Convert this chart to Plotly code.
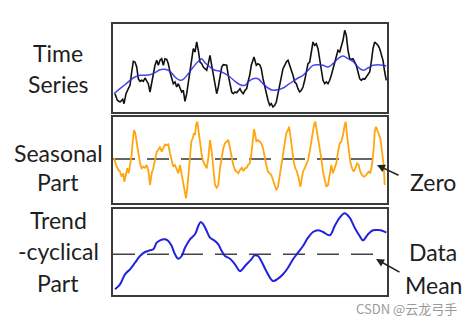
import plotly.graph_objects as go
from plotly.subplots import make_subplots

# ---- Panel 1: observed time series (black) and its smooth trend (blue) ----
series_t = [2, 4.3, 7, 9.7, 11, 13, 15.3, 17, 18.7, 20.3, 22, 23.7, 25.3, 27, 28.7, 30.3, 32, 33.7, 35.3, 37,
            38.7, 40.3, 42, 43.7, 45.3, 47, 48.7, 50.3, 52, 53.7, 55.3, 57, 58.7, 60.3, 62, 63.7, 65.3, 67, 68.7,
            70.3, 72, 73.7, 75.3, 77, 78.7, 80.3, 82, 83.7, 85.3, 87, 88.7, 90.3, 92, 93.7, 95.3, 97, 98.7, 100.3,
            102, 103.7, 105.3, 107, 108.7, 110.3, 112, 113.7, 115.3, 117, 118.7, 120.3, 122, 123.7, 125.3, 127,
            128.7, 130.3, 132, 133.7, 135,
            136.7, 138.3, 141, 143.3, 145, 146.7, 148.3, 150, 151.7, 153.3, 155, 156.7, 158.3, 160, 161.7, 163.3,
            165, 166.7, 168.3, 170, 171.7, 173.3, 175, 176.7, 178.3, 180, 181.7, 183.3, 185, 186.7, 188.3, 190,
            191.7, 193.3, 195, 196.7, 198.3, 200, 201.7, 203.3, 205, 206.7, 208.3, 210, 211.7, 213.3, 215, 216.7,
            218.3, 220, 221.7, 223.3, 225, 226.7, 228.3, 230, 231.7, 233.3, 235, 236.7, 238.3, 240, 241.7, 243.3,
            245, 246.7, 248.3, 250, 251.7, 253.3, 255, 256.7, 258.3, 260, 261.7, 263.3, 265, 266.7, 268.3, 270,
            271.7, 273.3]
series_v = [18.3, 11.7, 10, 12.7, 8.3, 18.3, 23.3, 26.7, 40, 50.7, 50, 45, 33.3, 30.7, 31.7, 30.7, 34, 31.7, 28.3,
            20, 30, 40, 46.7, 51.7, 46.7, 51.7, 53.3, 46.7, 53.3, 52.7, 48.3, 40, 35, 28.3, 30, 25, 28.3, 23.3, 20,
            21.7, 10.7, 18.3, 30, 43.3, 53.3, 63.3, 60, 70, 61.7, 50, 48.3, 45, 43.3, 41.7, 48.3, 56.7, 46.7, 36.7,
            25, 18.3, 25, 36.7, 45, 47.3, 46.7, 46.7, 36.7, 26.7, 20, 18.3, 20, 19.3, 21.7, 23.3, 20, 18.3, 21.7,
            23.3, 30,
            36.7, 46.7, 55, 46.7, 48.3, 47.3, 43.3, 33.3, 25, 16.7, 11.7, 6.7, 8.3, 5, 6.7, 10, 18.3, 26.7, 36.7,
            43.3, 46.7, 50, 51.7, 46.7, 43.3, 36.7, 30, 28.3, 23.3, 20, 21.7, 25, 31.7, 38.3, 48.3, 50, 60, 70,
            66.7, 68.3, 63.3, 53.3, 40, 31.7, 28.3, 30, 28.3, 31.7, 36.7, 43.3, 51.7, 56.7, 61.7, 60, 65, 71.7,
            81.7, 76.7, 61.7, 53.3, 52.7, 53.3, 50, 46.7, 40, 33.3, 31.7, 33.3, 32.7, 35, 36.7, 40, 50, 63.3, 70,
            68.3, 66.7, 63.3, 56.7, 51.7, 40, 31.7]

smooth_t = [1, 7, 12, 17, 22, 27, 32, 37, 42, 47, 52, 57, 62, 67, 70.3, 75.3, 80.3, 85.3, 88.7, 92, 97, 102,
            107, 112, 117, 122, 127, 132, 135, 140, 145, 150, 155, 160, 165, 170, 175, 180, 185, 190, 195, 200,
            205, 210, 215, 220, 225, 230, 235, 240, 245, 250, 255, 260, 265, 270, 273.3]
smooth_v = [18.3, 23.3, 27.3, 31.7, 35, 36.7, 36.7, 37.3, 39.3, 42.3, 42.7, 40.7, 35, 31.7, 32.7, 38.3, 45,
            50.7, 53.3, 49.3, 45, 41.7, 40.7, 38.3, 35, 30.7, 27.3, 26.7, 30, 33.3, 33.3, 28.3, 24, 21.7, 22.3,
            24, 27.3, 30.7, 34, 36.7, 41.7, 46.7, 47.3, 46.7, 45, 48.3, 53.3, 56, 53.3, 50.7, 45, 41.7, 44, 46.7,
            47.3, 46.7, 46]

# ---- Panel 2: seasonal part ----
season_t = [1, 3, 5.3, 7, 8.7, 10.3, 11.3, 12.7, 14.3, 15.7, 17, 18.7, 19.7, 21, 22.3, 23.7, 25.3, 27, 28.7, 30.3,
            32, 33.7, 35.3, 37, 38.7, 40.3, 42, 43.7, 45.3, 47, 48.7, 50.3, 52, 53.7, 55.3, 57, 58.7, 60.3, 62,
            63.7, 65.3, 67, 68.7, 70.3, 72, 73, 74.3, 75.7, 77, 78.3, 79.7, 81, 82, 83, 84.3, 85.7, 87, 88.7, 90.3,
            92, 93.7, 95.3, 97, 98.7, 100.3, 102, 103.7, 105.3, 107, 108.7, 110.3, 112, 113.7, 115.3, 117, 118.7,
            120.3, 122, 123.7, 125.3, 127, 128.7, 130.3, 132, 133.7, 135,
            136.7, 138.3, 140, 141, 142.3, 143.3, 145, 146.7, 148.3, 150, 151.7, 153.3, 155, 156.7, 158.3, 160,
            161.7, 163.3, 165, 166.7, 168.3, 170, 171.7, 173.3, 175, 176, 177.3, 179, 180.7, 182.3, 184, 185.7,
            187.3, 188.3, 190, 191.7, 193.3, 195, 196.7, 198.3, 200, 201, 202.3, 203.7, 205, 206.7, 208.3, 210,
            211.7, 213.3, 215, 216.7, 218.3, 220, 221.7, 223.3, 225, 226.7, 228.3, 230, 231.7, 232.7, 234, 235.7,
            237.3, 239, 240.7, 242.3, 244, 245.7, 247.3, 249, 250.7, 252.3, 254, 255.7, 257.3, 259, 260.7, 261.7,
            263, 264.3, 265.7, 267.3, 269, 270.7, 271.7]
season_v = [0.7, -6, -11, -12.7, -17.7, -14.3, -22.7, -16, -9.3, -14.3, -6, 4, 17.3, 29, 25.7, 17.3, 7.3, -4.3,
            -9.3, -7.7, -8.7, -6, -11, -26, -14.3, -9.3, -1, 7.3, 9, 12.3, 7.3, 10.7, 14.7, 14, 14.7, 5.7, -2.7,
            -7.7, -6, -11, -14.3, -6, -16, -22.7, -34.3, -39.3, -29.3, -9.3, 7.3, 17.3, 20.7, 25.7, 24, 34, 37.3,
            29, 17.3, 4, -2.7, -6, -9.3, 0.7, 19, 7.3, -9.3, -26, -28.7, -26, -9.3, 4, 10.7, 15.7, 18, 19, 10.7,
            0.7, -6, -11, -13.3, -14.3, -11, -8.7, -12, -9.3, -8.7, -6,
            -4.3, 4, 20.7, 30, 24, 17.3, 19, 17.3, 15.7, 10.7, 0.7, -6, -12.7, -14.3, -16, -21, -27.7, -31, -27.7,
            -16, -4.3, 7.3, 19, 25.7, 29, 32.3, 24, 10.7, -2.7, -9.3, -12.7, -19.3, -27.7, -22.7, -12.7, -9.3, -6,
            -1, 7.3, 17.3, 24, 34, 37.3, 29, 24, 14, 0.7, -12.7, -22.7, -27.7, -26, -16, -6, -14.3, -7.7, -4.3,
            7.3, 15.7, 17.3, 24, 34, 37.3, 24, 7.3, -2.7, -9.3, -12.7, -9.3, -4.3, -6, -12.7, -16, -17.7, -17,
            -14.7, -12.7, -14.3, -6, 10.7, 27.3, 32.3, 29, 24, 20.7, 7.3, -6, -26]

# ---- Panel 3: trend-cyclical part (deviation from data mean) ----
trend_t = [2, 7, 12, 17, 22, 27, 32, 37, 40.3, 43.7, 47, 52, 55.3, 58.7, 62, 65.3, 68.7, 72, 77, 82, 85.3, 87.7,
           90.3, 93.7, 97, 102, 105.3, 108.7, 112, 117, 122, 127, 132, 135, 138.3, 141.7, 145, 148.3, 153.3, 160,
           165, 170, 175, 180, 185, 190, 195, 200, 205, 210, 216.7, 221.7, 226.7, 231.7, 236.7, 241.7, 246.7, 250,
           255, 260, 265, 270, 273.3]
trend_v = [-35, -30, -20, -15, -8.4, -1.7, 2.3, 4, 5, 11.6, 14, 15, 13.3, 8.3, 0, -4.4, -1.7, 6.6, 15, 20, 28.3,
           32.3, 30, 23.3, 16.6, 13.3, 10, 3.3, -1.7, -4.4, -10, -16.7, -11.7, -8.5, -5, -1, -1.7, -6.7, -16.7,
           -26.7, -24.4, -20, -13.4, -5, 1.6, 8.3, 16.6, 22.3, 24, 22.3, 19, 28.3, 36.6, 41, 36.6, 26.6, 18.3,
           14, 20, 24, 24.3, 23.3, 21.6]

ref_t = [0, 265]          # extent of the reference (zero / mean) lines
ref_v = [0, 0]

left_labels = [["Time", "Series"], ["Seasonal", "Part"], ["Trend", "-cyclical", "Part"]]
right_labels = [["Zero"], ["Data", "Mean"]]

W, H = 474, 326
fig = make_subplots(rows=3, cols=1)

fig.add_trace(go.Scatter(x=series_t, y=series_v, mode="lines",
                         line=dict(color="#111111", width=1.6)), row=1, col=1)
fig.add_trace(go.Scatter(x=smooth_t, y=smooth_v, mode="lines", line_shape="spline",
                         line=dict(color="rgba(40,40,230,0.85)", width=1.5)), row=1, col=1)
fig.add_trace(go.Scatter(x=ref_t, y=ref_v, mode="lines",
                         line=dict(color="#333333", width=1.5, dash="22px,12px")), row=2, col=1)
fig.add_trace(go.Scatter(x=season_t, y=season_v, mode="lines",
                         line=dict(color="#FFA510", width=1.8)), row=2, col=1)
fig.add_trace(go.Scatter(x=ref_t, y=ref_v, mode="lines",
                         line=dict(color="#444444", width=1.5, dash="22px,12px")), row=3, col=1)
fig.add_trace(go.Scatter(x=trend_t, y=trend_v, mode="lines", line_shape="spline",
                         line=dict(color="#2222DD", width=2)), row=3, col=1)

x0, x1 = 113 / W, 387 / W
panels = [(24, 112, [0, 88]), (116.7, 203.3, [-44.3, 42.3]), (208.7, 295.3, [-41, 45.6])]
axis_style = dict(showgrid=False, zeroline=False, showticklabels=False, ticks="",
                  showline=True, mirror=True, linecolor="#3a3a3a", linewidth=1.6)
for i, (top, bot, yr) in enumerate(panels, start=1):
    fig.update_xaxes(domain=[x0, x1], range=[0, 274], row=i, col=1, **axis_style)
    fig.update_yaxes(domain=[(H - bot) / H, (H - top) / H], range=yr, row=i, col=1, **axis_style)

font = dict(family="Lato, 'Open Sans', sans-serif", size=23, color="#1e1e1e")
left_pos = [[53, 84], [153, 182], [220, 251, 283]]
for lines, ys in zip(left_labels, left_pos):
    for txt, yy in zip(lines, ys):
        fig.add_annotation(x=58 / W, y=(H - yy) / H, xref="paper", yref="paper", text=txt,
                           showarrow=False, font=font, xanchor="center", yanchor="middle")
right_pos = [[182], [252, 285]]
for lines, ys in zip(right_labels, right_pos):
    for txt, yy in zip(lines, ys):
        fig.add_annotation(x=433 / W, y=(H - yy) / H, xref="paper", yref="paper", text=txt,
                           showarrow=False, font=font, xanchor="center", yanchor="middle")

# arrows
for (hx, hy, tx, ty) in [(377, 165, 400, 176), (376, 259, 401, 273)]:
    fig.add_annotation(x=hx / W, y=(H - hy) / H, xref="paper", yref="paper", text="",
                       showarrow=True, ax=tx - hx, ay=ty - hy, arrowhead=2, arrowsize=1,
                       arrowwidth=1.6, arrowcolor="#222222")

fig.add_annotation(x=459 / W, y=(H - 308) / H, xref="paper", yref="paper", text="CSDN @云龙弓手",
                   showarrow=False, xanchor="right", yanchor="middle",
                   font=dict(family="'Noto Sans CJK SC', 'Noto Sans', sans-serif", size=13, color="#9a9a9a"))

fig.update_layout(width=W, height=H, margin=dict(l=0, r=0, t=0, b=0), showlegend=False,
                  paper_bgcolor="white", plot_bgcolor="white")
fig.write_html("out.html")
